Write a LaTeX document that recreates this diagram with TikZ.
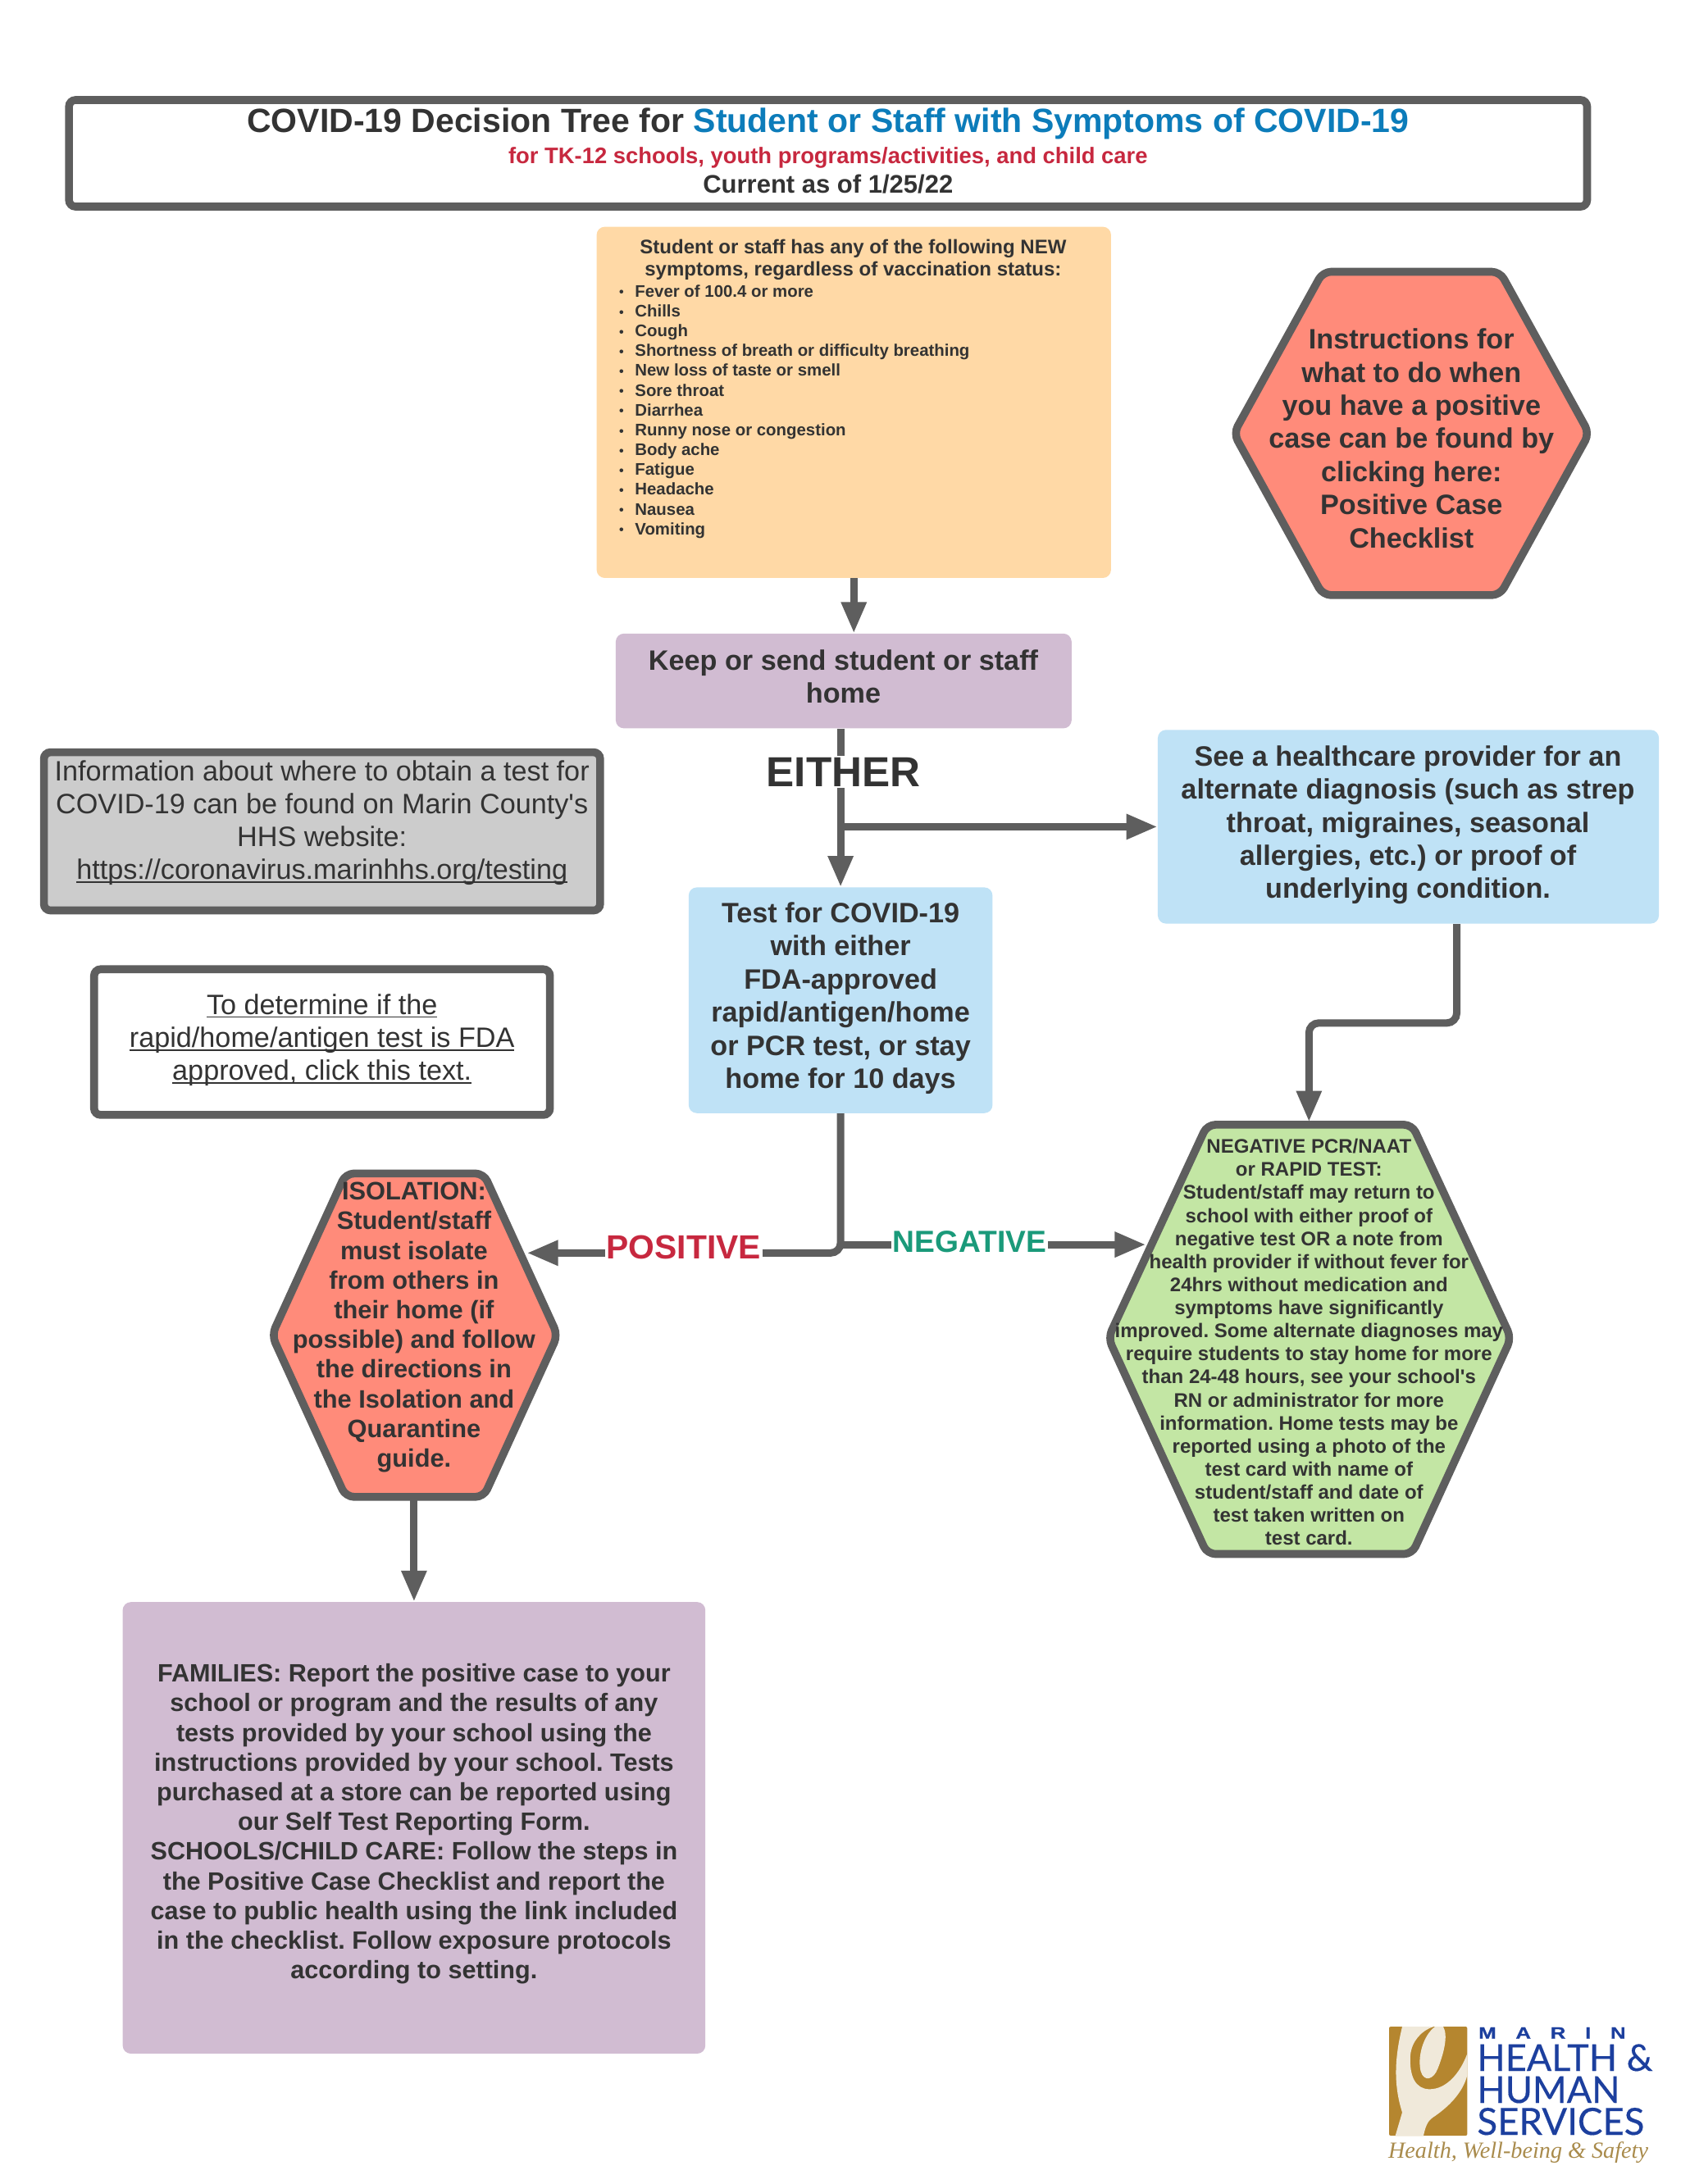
\documentclass[tikz,border=0pt]{standalone}
\usepackage{fontspec}
\setmainfont[Ligatures=TeXOff]{Liberation Sans}
\newfontfamily\logosans[FakeBold=0.35]{Lato}
\newfontfamily\logomarin[FakeStretch=1.3,LetterSpace=118,FakeBold=0.6]{Liberation Sans}
\newfontfamily\logotag{Liberation Serif}
\usetikzlibrary{arrows.meta}
\definecolor{ink}{HTML}{333333}
\definecolor{edge}{HTML}{5E5E5E}
\definecolor{peach}{HTML}{FFD9A6}
\definecolor{salmon}{HTML}{FF8B7A}
\definecolor{mauve}{HTML}{D1BCD2}
\definecolor{sky}{HTML}{BFE2F6}
\definecolor{leaf}{HTML}{C3E6A4}
\definecolor{silver}{HTML}{CCCCCC}
\definecolor{titleblue}{HTML}{0C7CBA}
\definecolor{alert}{HTML}{C7283F}
\definecolor{okgreen}{HTML}{1A9A7A}
\definecolor{logoblue}{HTML}{1C3F9E}
\definecolor{logogold}{HTML}{B5862F}
\definecolor{logocream}{HTML}{F0E9DA}
\definecolor{logotagc}{HTML}{A98B4C}
\def\uu{0.85pt}
\tikzset{
  flat/.style={rectangle,rounded corners=5pt,inner sep=0pt},
  framed/.style={flat,rounded corners=4pt,draw=edge,line width=4.8pt},
  hex/.style={draw=edge,line width=4.8pt,rounded corners=5pt,line join=round},
  words/.style={inner sep=0pt,align=center,text=ink,font=\bfseries\fontsize{17.1}{20.2}\selectfont},
  lightwords/.style={inner sep=0pt,align=center,text=ink,font=\fontsize{17.1}{20.1}\selectfont},
  conn/.style={draw=edge,line width=4.5pt,-{Triangle[length=19pt,width=14.5pt]},rounded corners=6pt},
  lbl/.style={fill=white,inner sep=1pt},
  x=0.85pt,y=-0.85pt
}
\newcommand{\li}[1]{\makebox[9.6pt][l]{\fontsize{8}{8}\selectfont\raisebox{.2pt}{•}}#1}
\newcommand{\ulx}[1]{{\setbox0\hbox{#1}\rlap{\rule[-2pt]{\wd0}{0.8pt}}\box0}}
\frenchspacing
\begin{document}
\begin{tikzpicture}
\useasboundingbox (0pt,0pt) rectangle (1030pt,-1332pt);
\node[framed,fill=white,minimum width=1089*\uu,minimum height=76.5*\uu] (title) at (594,110) {};
\node[inner sep=0pt,font=\bfseries\fontsize{20.5}{23}\selectfont,text=ink] (t1) at (594,89) {COVID-19 Decision Tree for \textcolor{titleblue}{Student or Staff with Symptoms of COVID-19}};
\node[inner sep=0pt,font=\bfseries\fontsize{13.7}{16}\selectfont,text=alert] (t2) at (594,113.5) {for TK-12 schools, youth programs/activities, and child care};
\node[inner sep=0pt,font=\bfseries\fontsize{15.5}{18}\selectfont,text=ink] (t3) at (594,132) {Current as of 1/25/22};

\node[flat,fill=peach,minimum width=369*\uu,minimum height=252*\uu] (sym) at (612.5,288.7) {};
\node[inner sep=0pt,align=center,text=ink,font=\bfseries\fontsize{12}{13.55}\selectfont] (symhead) at (612,186.4) {Student or staff has any of the following NEW\\symptoms, regardless of vaccination status:};
\node[inner sep=0pt,align=left,text=ink,anchor=north west,font=\bfseries\fontsize{10.2}{12.08}\selectfont] (symlist) at (444,204.2) {\li{Fever of 100.4 or more}\\\li{Chills}\\\li{Cough}\\\li{Shortness of breath or difficulty breathing}\\\li{New loss of taste or smell}\\\li{Sore throat}\\\li{Diarrhea}\\\li{Runny nose or congestion}\\\li{Body ache}\\\li{Fatigue}\\\li{Headache}\\\li{Nausea}\\\li{Vomiting}};

\draw[hex,fill=salmon] (949,195) -- (1076,195) -- (1140,311) -- (1076,427) -- (949,427) -- (885,311) -- cycle;
\node[words] (hexr) at (1012.5,314.5) {Instructions for\\what to do when\\you have a positive\\case can be found by\\clicking here:\\Positive Case\\Checklist};

\node[flat,fill=mauve,minimum width=327*\uu,minimum height=68*\uu] (keep) at (605.2,488.6) {};
\node[words] (keeptext) at (605,485.4) {Keep or send student or staff\\home};

\node[framed,fill=silver,minimum width=399*\uu,minimum height=113.5*\uu] (info) at (231,596.5) {};
\node[lightwords] (infotext) at (231,590.3) {Information about where to obtain a test for\\COVID-19 can be found on Marin County's\\HHS website:\\\ulx{https://coronavirus.marinhhs.org/testing}};

\node[flat,fill=sky,minimum width=359.5*\uu,minimum height=139*\uu] (blue) at (1010.3,593.2) {};
\node[words] (bluetext) at (1010,592) {See a healthcare provider for an\\alternate diagnosis (such as strep\\throat, migraines, seasonal\\allergies, etc.) or proof of\\underlying condition.};

\node[flat,fill=sky,minimum width=218*\uu,minimum height=162*\uu] (test) at (603,717.7) {};
\node[words] (testtext) at (603,716.3) {Test for COVID-19\\with either\\FDA-approved\\rapid/antigen/home\\or PCR test, or stay\\home for 10 days};

\node[framed,fill=white,minimum width=327*\uu,minimum height=104.5*\uu] (fda) at (231,747.7) {};
\node[lightwords] (fdatext) at (231,746.3) {\ulx{To determine if the}\\\ulx{rapid/home/antigen test is FDA}\\\ulx{approved, click this text.}};

\draw[hex,fill=salmon] (248,842) -- (347,842) -- (400,958) -- (347,1074) -- (248,1074) -- (195,958) -- cycle;
\node[words,font=\bfseries\fontsize{15.4}{18.1}\selectfont] (iso) at (297,952.4) {ISOLATION:\\Student/staff\\must isolate\\from others in\\their home (if\\possible) and follow\\the directions in\\the Isolation and\\Quarantine\\guide.};

\draw[hex,fill=leaf] (866,807) -- (1013,807) -- (1084,960) -- (1013,1115) -- (866,1115) -- (795,960) -- cycle;
\node[words,font=\bfseries\fontsize{12}{14.06}\selectfont] (neg) at (939,963) {NEGATIVE PCR/NAAT\\or RAPID TEST:\\Student/staff may return to\\school with either proof of\\negative test OR a note from\\health provider if without fever for\\24hrs without medication and\\symptoms have significantly\\improved. Some alternate diagnoses may\\require students to stay home for more\\than 24-48 hours, see your school's\\RN or administrator for more\\information. Home tests may be\\reported using a photo of the\\test card with name of\\student/staff and date of\\test taken written on\\test card.};

\node[flat,fill=mauve,minimum width=418*\uu,minimum height=324*\uu] (fam) at (297,1311.5) {};
\node[words,font=\bfseries\fontsize{15.3}{18.1}\selectfont] (famtext) at (297,1308.7) {FAMILIES: Report the positive case to your\\school or program and the results of any\\tests provided by your school using the\\instructions provided by your school. Tests\\purchased at a store can be reported using\\our Self Test Reporting Form.\\SCHOOLS/CHILD CARE: Follow the steps in\\the Positive Case Checklist and report the\\case to public health using the link included\\in the checklist. Follow exposure protocols\\according to setting.};

% connectors
\coordinate (isoin) at (378,899);
\coordinate (negin) at (822,893);
\coordinate (bluedown) at (1045,663);
\coordinate (negtop) at (939,805);
\coordinate (isobot) at (297,1075);
\draw[conn] (sym.south) -- (sym.south |- keep.north);
\draw[conn] (keep.south -| test.north) -- (test.north);
\draw[conn] (test.north |- blue.west) -- (blue.west);
\draw[conn] (bluedown) -- (1045,734) -- (939,734) -- (negtop);
\draw[conn] (test.south) |- (isoin);
\draw[conn] (test.south |- negin) -- (negin);
\draw[conn] (isobot) -- (isobot |- fam.north);
\node[lbl,text=ink,font=\bfseries\fontsize{25.6}{28}\selectfont] (either) at (605,554) {EITHER};
\node[lbl,text=alert,font=\bfseries\fontsize{20.4}{22}\selectfont] (pos) at (490.5,895) {POSITIVE};
\node[lbl,text=okgreen,font=\bfseries\fontsize{18.6}{20}\selectfont] (negl) at (695.5,891) {NEGATIVE};

% logo, in the zoomed logo's own frame: 1 unit = 1/3 reference pixel
\begin{scope}[shift={(830pt,-1220pt)},x=0.16667pt,y=-0.16667pt]
\fill[logogold,rounded corners=1pt] (102,96) rectangle (388,495);
\fill[logocream] (150,96) .. controls (125,200) and (115,300) .. (150,410) -- (125,495) -- (228,495) .. controls (235,460) and (245,440) .. (260,430) .. controls (320,390) and (370,340) .. (388,275) -- (388,195) .. controls (360,270) and (310,325) .. (250,325) .. controls (200,325) and (175,280) .. (180,200) .. controls (185,150) and (220,110) .. (265,96) -- cycle;
\fill[logocream] (270,96) -- (300,96) .. controls (320,130) and (300,200) .. (280,250) .. controls (265,290) and (230,300) .. (218,260) .. controls (205,210) and (225,130) .. (270,96) -- cycle;
\node[anchor=base west,inner sep=0pt,text=logoblue,font=\logomarin\bfseries\fontsize{10}{10}\selectfont] (lm) at (428,140) {MARIN};
\node[anchor=base west,inner sep=0pt,text=logoblue,font=\logosans\fontsize{22.5}{23}\selectfont] (l1) at (423,258) {HEALTH \&};
\node[anchor=base west,inner sep=0pt,text=logoblue,font=\logosans\fontsize{22.5}{23}\selectfont] (l2) at (423,375) {HUMAN};
\node[anchor=base west,inner sep=0pt,text=logoblue,font=\logosans\fontsize{22.8}{23}\selectfont] (l3) at (423,492) {SERVICES};
\node[anchor=base west,inner sep=0pt,text=logotagc,font=\logotag\itshape\fontsize{14.1}{14}\selectfont] (l4) at (98,578) {Health, Well-being \& Safety};
\end{scope}
\end{tikzpicture}
\end{document}
